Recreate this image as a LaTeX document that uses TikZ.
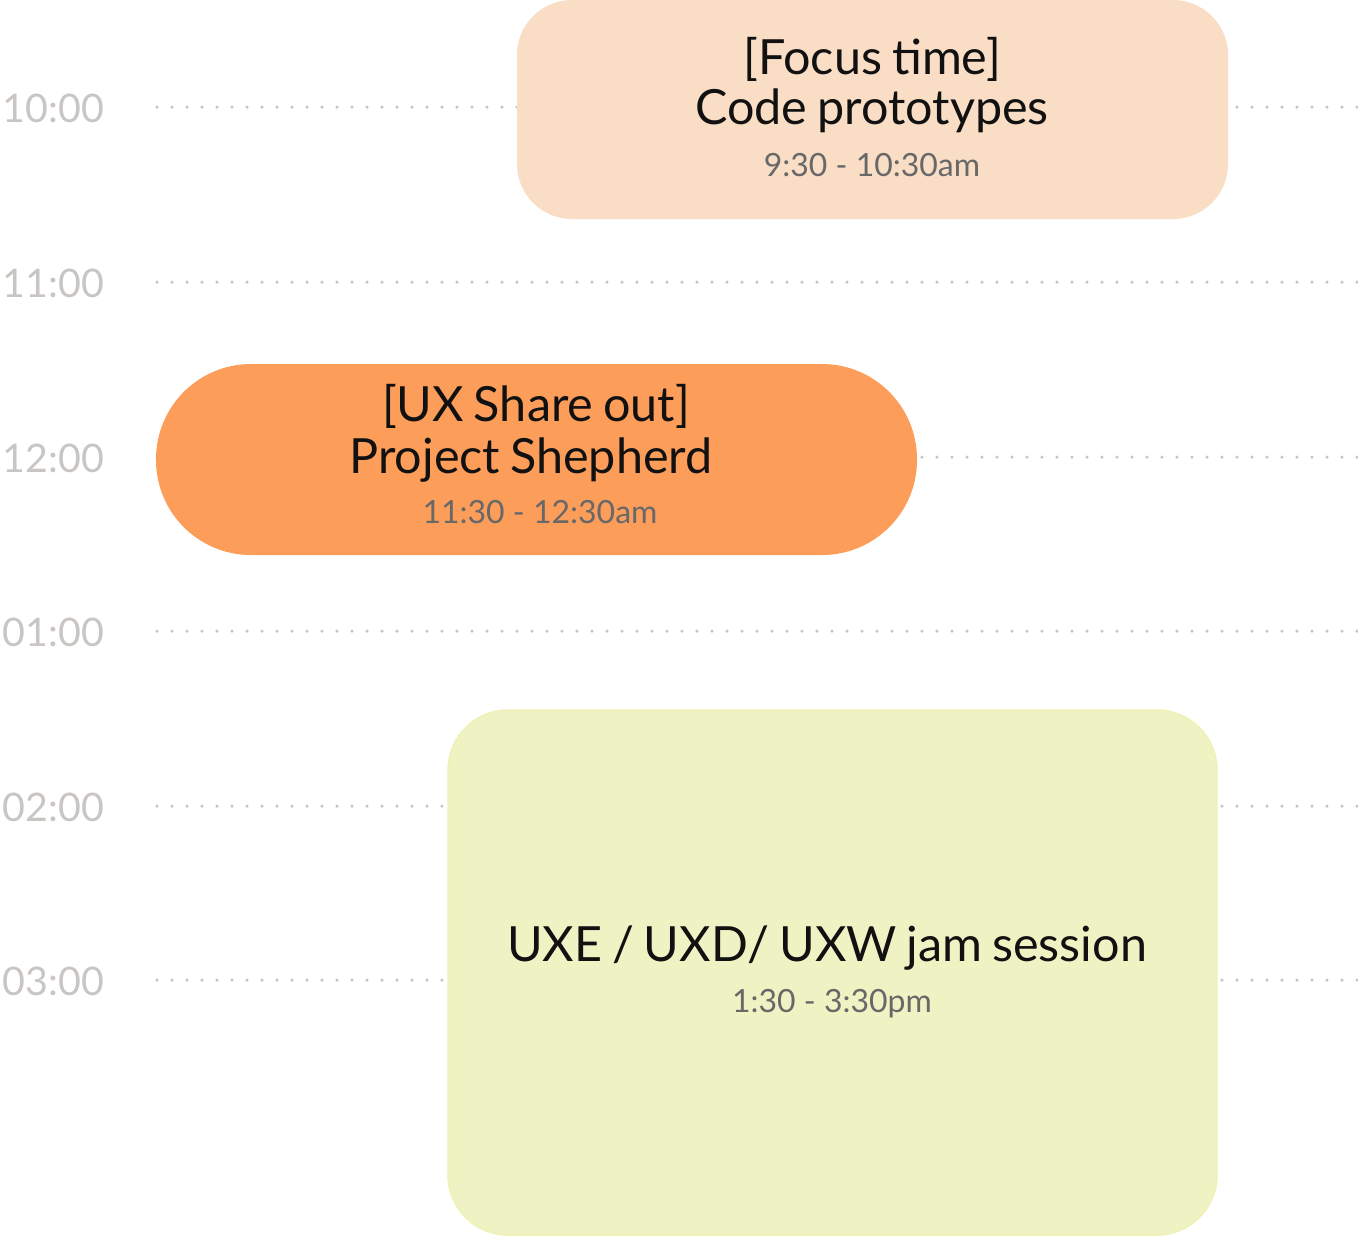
\documentclass[tikz,border=0pt]{standalone}
\usepackage{fontspec}
\setmainfont{Lato}
\newfontfamily\titlefont[WordSpace=0.8]{Lato}
\usepackage{xcolor}
\definecolor{cFocus}{HTML}{F9DDC5}
\definecolor{cShare}{HTML}{FC9D5A}
\definecolor{cJam}{HTML}{EFF3C3}
\definecolor{cJamEdge}{HTML}{EEF2B4}
\definecolor{cHour}{HTML}{C9C5C3}
\definecolor{cDot}{HTML}{C6C6C6}
\definecolor{cInk}{HTML}{111111}
\definecolor{cSub}{HTML}{686868}
\tikzset{
  slotbox/.style={
    rectangle, fill=#1, draw=none,
    inner sep=0pt,
  },
  hourlabel/.style={
    font=\fontsize{11.2}{14}\selectfont, text=cHour, anchor=base west,
    inner sep=0pt,
  },
  gridline/.style={
    draw=cDot, line width=0.035cm, line cap=round,
    dash pattern=on 0pt off 0.15cm,
  },
  evtitle/.style={font=\titlefont\fontsize{13.8}{17}\selectfont,
    text=cInk, anchor=base, inner sep=0pt},
  evtime/.style={font=\fontsize{9.1}{12}\selectfont, text=cSub, anchor=base, inner sep=0pt},
}
\begin{document}
\begin{tikzpicture}
  \useasboundingbox (0,0) rectangle (13.58,-12.37);

  % hour labels and dotted guide lines
  \foreach \hr/\yy [count=\i] in {10:00/1.22, 11:00/2.97, 12:00/4.72, 01:00/6.46, 02:00/8.21, 03:00/9.95}{
    \node[hourlabel] (hour\i) at (0.02,-\yy) {\hr};
    \draw[gridline] (1.57,-\yy+0.15) -- (13.58,-\yy+0.15);
  }

  % Focus time
  \node[slotbox=cFocus, rounded corners=0.55cm, minimum width=7.11cm, minimum height=2.19cm]
    (focus) at (8.725,-1.095) {};
  \node[evtitle] (focusTag) at (8.72,-0.74) {[Focus time]};
  \node[evtitle] (focusName) at (8.72,-1.24) {Code prototypes};
  \node[evtime] (focusTime) at (8.72,-1.76) {9:30 - 10:30am};

  % UX share out
  \node[slotbox=cShare, rounded corners=0.95cm, minimum width=7.61cm, minimum height=1.91cm]
    (share) at (5.365,-4.595) {};
  \node[evtitle] (shareTag) at (5.36,-4.21) {[UX Share out]};
  \node[evtitle] (shareName) at (5.31,-4.73) {Project Shepherd};
  \node[evtime] (shareTime) at (5.40,-5.23) {11:30 - 12:30am};

  % Jam session
  \node[slotbox=cJam, draw=cJamEdge, line width=0.4pt, rounded corners=0.6cm,
        minimum width=7.69cm, minimum height=5.25cm]
    (jam) at (8.325,-9.725) {};
  \node[evtitle] (jamName) at (8.27,-9.61) {UXE / UXD/ UXW jam session};
  \node[evtime] (jamTime) at (8.32,-10.12) {1:30 - 3:30pm};

\end{tikzpicture}
\end{document}
